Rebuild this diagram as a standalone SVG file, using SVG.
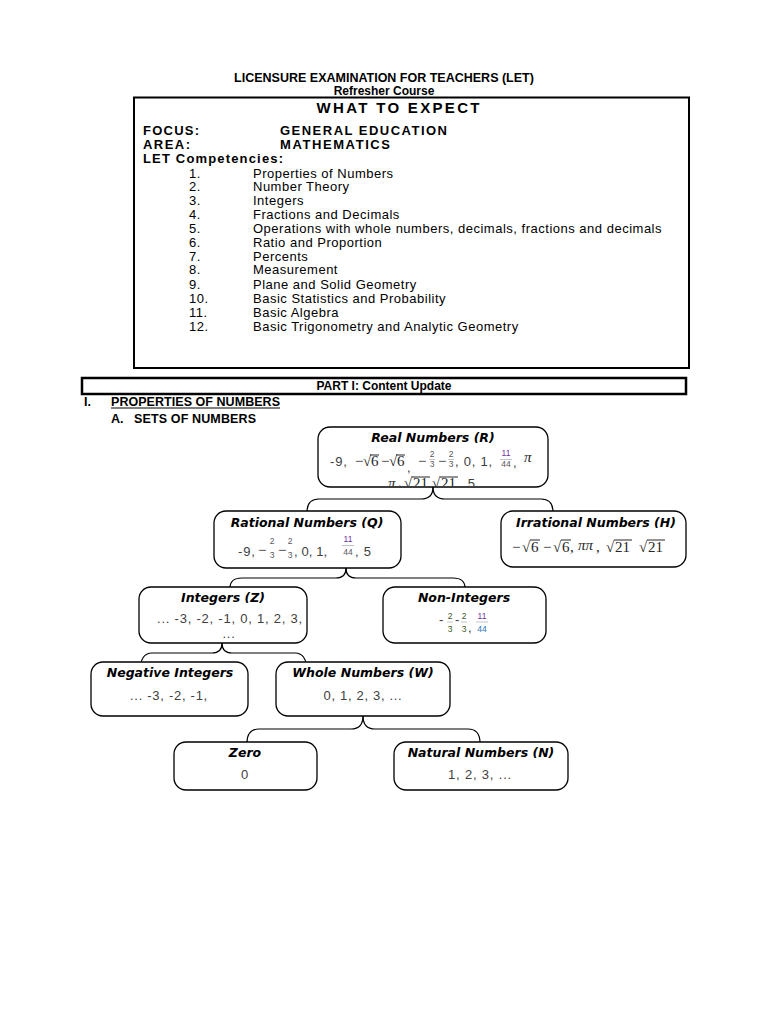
<svg xmlns="http://www.w3.org/2000/svg" width="768" height="1024" viewBox="0 0 768 1024">
<style>
.hd{font-family:"Liberation Sans",Arial,sans-serif;font-weight:bold;fill:#000}
.it{font-family:"Liberation Sans",Arial,sans-serif;font-size:13px;letter-spacing:0.5px;fill:#000}
.box{fill:#fff;stroke:#000;stroke-width:1.3}
.ttl{font-family:"DejaVu Sans",Verdana,sans-serif;font-weight:bold;font-style:italic;font-size:12.5px;text-anchor:middle;fill:#000}
.val{font-family:"Liberation Sans",Arial,sans-serif;font-size:13px;letter-spacing:0.8px;fill:#404040}
.m{font-family:"Liberation Serif","DejaVu Serif",serif;font-size:15px;fill:#262626}
.pi{font-family:"Liberation Serif","DejaVu Serif",serif;font-style:italic;font-size:15px;fill:#262626}
.fr{font-family:"Liberation Sans",Arial,sans-serif;font-size:8.5px;text-anchor:middle;fill:#595959}
.vn{stroke:#262626;stroke-width:1}
.fb{stroke:#9a9a9a;stroke-width:0.6}
.p{fill:#7030a0}
.b{fill:#1f78b4}
.g{fill:#385723}
.brace{fill:none;stroke:#000;stroke-width:1.2}
</style>
<defs>
<clipPath id="clipR"><rect x="318" y="427" width="230" height="59.3"/></clipPath>
</defs>

<g id="header">
<text class="hd" x="384" y="81.5" font-size="12.5" text-anchor="middle">LICENSURE EXAMINATION FOR TEACHERS (LET)</text>
<text class="hd" x="384" y="94.5" font-size="12" text-anchor="middle">Refresher Course</text>
</g>

<g id="expect-box">
<rect x="134" y="97.5" width="555" height="270.5" fill="none" stroke="#000" stroke-width="2"/>
<text class="hd" x="398" y="113" font-size="15" text-anchor="middle" textLength="163" lengthAdjust="spacing">WHAT TO EXPECT</text>
<text class="hd" x="143" y="134.5" font-size="13" textLength="56" lengthAdjust="spacing">FOCUS:</text>
<text class="hd" x="280" y="134.5" font-size="13" textLength="167" lengthAdjust="spacing">GENERAL EDUCATION</text>
<text class="hd" x="143" y="148.5" font-size="13" textLength="47" lengthAdjust="spacing">AREA:</text>
<text class="hd" x="280" y="148.5" font-size="13" textLength="110" lengthAdjust="spacing">MATHEMATICS</text>
<text class="hd" x="143" y="162.5" font-size="13" textLength="140" lengthAdjust="spacing">LET Competencies:</text>
<g class="it">
<text x="189" y="177.5">1.</text><text x="253" y="177.5">Properties of Numbers</text>
<text x="189" y="191">2.</text><text x="253" y="191">Number Theory</text>
<text x="189" y="205">3.</text><text x="253" y="205">Integers</text>
<text x="189" y="218.5">4.</text><text x="253" y="218.5">Fractions and Decimals</text>
<text x="189" y="232.5">5.</text><text x="253" y="232.5" textLength="409" lengthAdjust="spacing">Operations with whole numbers, decimals, fractions and decimals</text>
<text x="189" y="246.5">6.</text><text x="253" y="246.5">Ratio and Proportion</text>
<text x="189" y="260.5">7.</text><text x="253" y="260.5">Percents</text>
<text x="189" y="274">8.</text><text x="253" y="274">Measurement</text>
<text x="189" y="288.5">9.</text><text x="253" y="288.5">Plane and Solid Geometry</text>
<text x="189" y="302.5">10.</text><text x="253" y="302.5">Basic Statistics and Probability</text>
<text x="189" y="316.5">11.</text><text x="253" y="316.5">Basic Algebra</text>
<text x="189" y="330.5">12.</text><text x="253" y="330.5">Basic Trigonometry and Analytic Geometry</text>
</g>
</g>

<g id="part-bar">
<rect x="82" y="378" width="604" height="16" fill="none" stroke="#000" stroke-width="2.5"/>
<text class="hd" x="384" y="390" font-size="12" text-anchor="middle">PART I: Content Update</text>
</g>

<g id="headings">
<text class="hd" x="84" y="406" font-size="12.5">I.</text>
<text class="hd" x="111" y="406" font-size="12.5" textLength="169" lengthAdjust="spacing">PROPERTIES OF NUMBERS</text>
<line x1="111" y1="408" x2="280" y2="408" stroke="#000" stroke-width="1"/>
<text class="hd" x="111" y="423" font-size="12.5">A.</text>
<text class="hd" x="134" y="423" font-size="12.5" textLength="122" lengthAdjust="spacing">SETS OF NUMBERS</text>
</g>

<g id="connectors">
<path class="brace" d="M433,487 Q433,499 421,499 L319,499 Q307,499 307,512"/>
<path class="brace" d="M433,487 Q433,499 445,499 L541,499 Q553,499 553,512"/>
<path class="brace" d="M346,568 Q346,578 336,578 L242,578 Q230,578 230,588"/>
<path class="brace" d="M346,568 Q346,578 356,578 L453,578 Q465,578 465,588"/>
<path class="brace" d="M222,643 Q222,653 212,653 L152,653 Q140,653 140,672"/>
<path class="brace" d="M222,643 Q222,653 232,653 L295,653 Q307,653 307,672"/>
<path class="brace" d="M363,716 Q363,729 351,729 L259,729 Q247,729 247,743"/>
<path class="brace" d="M363,716 Q363,729 375,729 L468,729 Q480,729 480,743"/>
</g>

<g id="node-real">
<rect class="box" x="318" y="427" width="230" height="60" rx="12"/>
<text class="ttl" x="433" y="442">Real Numbers (R)</text>
<g clip-path="url(#clipR)">
<text class="val" x="330" y="466">-9,</text>
<text class="m" font-size="14" y="466"><tspan x="355">−</tspan><tspan x="363">√</tspan><tspan x="371">6</tspan><tspan x="381">−</tspan><tspan x="389">√</tspan><tspan x="397">6</tspan></text>
<line class="vn" x1="370" y1="455" x2="379" y2="455"/>
<line class="vn" x1="396" y1="455" x2="405" y2="455"/>
<text class="val" x="407" y="472">,</text>
<text class="m" font-size="14" x="418" y="466">−</text>
<text class="fr" x="432" y="456.5">2</text><line class="fb" x1="429" y1="459.5" x2="435" y2="459.5"/><text class="fr" x="432" y="467">3</text>
<text class="m" font-size="14" x="438" y="466">−</text>
<text class="fr" x="451" y="456.5">2</text><line class="fb" x1="448" y1="459.5" x2="454" y2="459.5"/><text class="fr" x="451" y="467">3</text>
<text class="val" x="455" y="466" textLength="38" lengthAdjust="spacing">, 0, 1,</text>
<text class="fr p" x="506" y="456">11</text><line class="fb" x1="500" y1="459.5" x2="512" y2="459.5"/><text class="fr" x="506" y="467" fill="#5a6a8a">44</text>
<text class="val" x="513" y="467">,</text>
<text class="pi" x="524" y="462">π</text>
<text class="pi" x="388" y="488">π</text>
<text class="val" x="398" y="487">,</text>
<text class="m" y="488"><tspan x="404">√</tspan><tspan x="413">21</tspan><tspan x="432">√</tspan><tspan x="441">21</tspan></text>
<line class="vn" x1="412" y1="477" x2="430" y2="477"/>
<line class="vn" x1="440" y1="477" x2="458" y2="477"/>
<text class="val" x="459" y="488">, 5</text>
</g>
</g>

<g id="node-rational">
<rect class="box" x="214" y="511" width="187" height="57" rx="12"/>
<text class="ttl" x="307" y="527">Rational Numbers (Q)</text>
<text class="val" x="238" y="556">-9,</text>
<text class="m" font-size="14" x="258" y="555">−</text>
<text class="fr" x="272" y="543.5">2</text><text class="fr" x="272" y="558">3</text>
<text class="m" font-size="14" x="278" y="555">−</text>
<text class="fr" x="290" y="543.5">2</text><text class="fr" x="290" y="558">3</text>
<text class="val" x="294" y="556" textLength="34" lengthAdjust="spacing">, 0, 1,</text>
<text class="fr p" x="348" y="541.5">11</text><line class="fb" x1="342" y1="545.5" x2="354" y2="545.5"/><text class="fr" x="348" y="555" fill="#5a6a8a">44</text>
<text class="val" x="355" y="556">, 5</text>
</g>

<g id="node-irrational">
<rect class="box" x="501" y="511" width="185" height="56" rx="12"/>
<text class="ttl" x="596" y="527">Irrational Numbers (H)</text>
<text class="m" font-size="16" y="552"><tspan x="512">−</tspan><tspan x="522">√</tspan><tspan x="531">6</tspan><tspan x="543">−</tspan><tspan x="553">√</tspan><tspan x="562">6</tspan><tspan x="570">,</tspan></text>
<line class="vn" x1="530" y1="540" x2="540" y2="540"/>
<line class="vn" x1="561" y1="540" x2="571" y2="540"/>
<text class="pi" font-size="15" x="578" y="550">ππ</text>
<text class="m" font-size="16" y="552"><tspan x="596">,</tspan><tspan x="606">√</tspan><tspan x="615">21</tspan><tspan x="639">√</tspan><tspan x="648">21</tspan></text>
<line class="vn" x1="614" y1="540" x2="632" y2="540"/>
<line class="vn" x1="647" y1="540" x2="665" y2="540"/>
</g>

<g id="node-integers">
<rect class="box" x="139" y="587" width="168" height="56" rx="12"/>
<text class="ttl" x="223" y="602">Integers (Z)</text>
<text class="val" x="157" y="623" textLength="146" lengthAdjust="spacing">... -3, -2, -1, 0, 1, 2, 3,</text>
<text class="val" x="229" y="638" text-anchor="middle">...</text>
</g>

<g id="node-nonintegers">
<rect class="box" x="383" y="587" width="163" height="56" rx="12"/>
<text class="ttl" x="464" y="602">Non-Integers</text>
<text class="val" x="439" y="624">-</text>
<text class="fr g" x="450" y="619">2</text><line class="fb" x1="447" y1="622" x2="453" y2="622"/><text class="fr g" x="450" y="632">3</text>
<text class="val" x="455" y="624">-</text>
<text class="fr g" x="464" y="619">2</text><line class="fb" x1="461" y1="622" x2="467" y2="622"/><text class="fr g" x="464" y="632">3</text>
<text class="val" x="468" y="632">,</text>
<text class="fr p" x="482" y="619">11</text><line class="fb" x1="476" y1="622" x2="488" y2="622"/><text class="fr b" x="482" y="632">44</text>
</g>

<g id="node-negative">
<rect class="box" x="91" y="662" width="157" height="54" rx="12"/>
<text class="ttl" x="170" y="677">Negative Integers</text>
<text class="val" x="169" y="700" text-anchor="middle" textLength="78" lengthAdjust="spacing">... -3, -2, -1,</text>
</g>

<g id="node-whole">
<rect class="box" x="276" y="662" width="174" height="54" rx="12"/>
<text class="ttl" x="363" y="677">Whole Numbers (W)</text>
<text class="val" x="363" y="700" text-anchor="middle" textLength="79" lengthAdjust="spacing">0, 1, 2, 3, ...</text>
</g>

<g id="node-zero">
<rect class="box" x="174" y="742" width="143" height="48" rx="12"/>
<text class="ttl" x="245" y="757">Zero</text>
<text class="val" x="245" y="779" text-anchor="middle">0</text>
</g>

<g id="node-natural">
<rect class="box" x="394" y="742" width="174" height="48" rx="12"/>
<text class="ttl" x="481" y="757">Natural Numbers (N)</text>
<text class="val" x="480" y="779" text-anchor="middle" textLength="64" lengthAdjust="spacing">1, 2, 3, ...</text>
</g>
</svg>
